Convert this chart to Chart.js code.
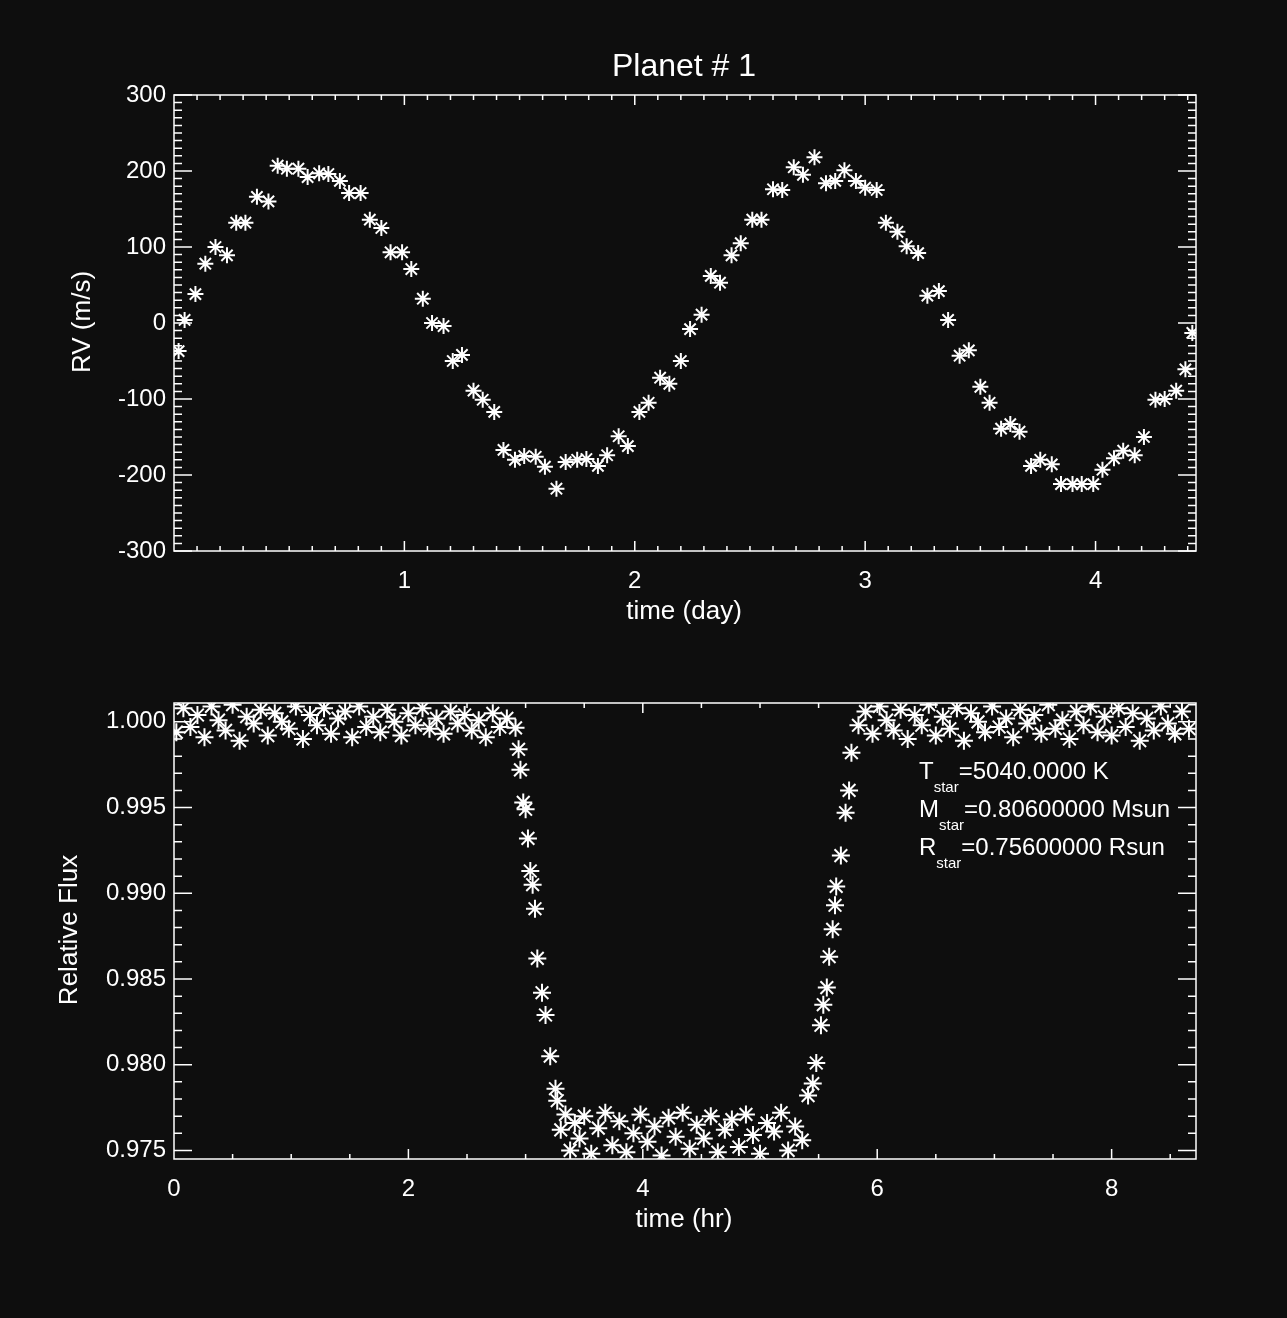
<!DOCTYPE html>
<html>
<head>
<meta charset="utf-8">
<script src="https://cdn.jsdelivr.net/npm/chart.js@4"></script>
<style>
  body { margin: 0; background: #0e0e0e; }
  .box { position: absolute; left: 0; width: 1287px; }
</style>
</head>
<body>
<div class="box" style="top:0;height:640px"><canvas id="rvChart"></canvas></div>
<div class="box" style="top:640px;height:678px"><canvas id="lcChart"></canvas></div>
<script>
const FONT = '"Liberation Sans Narrow", "Liberation Sans", sans-serif'

// radial velocity, time in days
const rvTime = [0.02,0.046,0.093,0.136,0.18,0.23,0.27,0.31,0.36,0.41,0.45,0.49,0.54,0.58,0.63,0.67,0.72,0.76,0.81,0.85,0.90,0.94,0.99,1.03,1.08,1.12,1.17,1.21,1.25,1.30,1.34,1.39,1.43,1.48,1.52,1.57,1.61,1.66,1.70,1.75,1.79,1.84,1.88,1.93,1.97,2.02,2.06,2.11,2.15,2.20,2.24,2.29,2.33,2.37,2.42,2.46,2.51,2.55,2.60,2.64,2.69,2.73,2.78,2.83,2.87,2.91,2.96,3.00,3.05,3.09,3.14,3.18,3.23,3.27,3.32,3.36,3.41,3.45,3.50,3.54,3.59,3.63,3.67,3.72,3.76,3.81,3.85,3.90,3.94,3.99,4.03,4.08,4.12,4.17,4.21,4.26,4.30,4.35,4.39,4.42]
const rvValue = [-37,4,38,78,100,89,132,132,166,160,207,203,203,192,197,196,187,171,171,136,125,93,93,71,32,0,-4,-50,-42,-89,-101,-117,-167,-180,-175,-176,-189,-218,-183,-180,-179,-188,-174,-149,-162,-117,-105,-72,-80,-50,-8,11,62,53,89,105,136,136,176,175,205,195,218,184,187,201,187,178,175,132,120,101,92,36,42,4,-43,-36,-84,-105,-139,-133,-143,-188,-180,-186,-212,-212,-212,-212,-193,-178,-168,-174,-150,-101,-100,-89,-61,-13]
const rvXTicks = [1, 2, 3, 4]
const rvYTicks = [-300, -200, -100, 0, 100, 200, 300]

// transit light curve, time in hours
const lcTime = [
  0.02,0.08,0.14,0.20,0.26,0.32,0.38,0.44,0.50,0.56,0.62,0.68,0.74,0.80,0.86,0.92,0.98,1.04,1.10,1.16,1.22,1.28,1.34,1.40,1.46,1.52,1.58,1.64,1.70,1.76,1.82,1.88,1.94,2.00,2.06,2.12,2.18,2.24,2.30,2.36,2.42,2.48,2.54,2.60,2.66,2.72,2.78,2.84,
  2.914,2.94,2.956,2.98,3.00,3.02,3.04,3.06,3.08,3.10,3.14,3.17,3.21,3.255,3.27,
  3.30,3.34,3.38,3.42,3.46,3.50,3.56,3.62,3.68,3.74,3.80,3.86,3.92,3.98,4.04,4.10,4.16,4.22,4.28,4.34,4.40,4.46,4.52,4.58,4.64,4.70,4.76,4.82,4.88,4.94,5.00,5.06,5.12,5.18,5.24,5.30,5.36,
  5.41,5.45,5.48,5.52,5.54,5.57,5.59,5.62,5.64,5.65,5.69,5.73,5.76,5.78,5.84,
  5.90,5.96,6.02,6.08,6.14,6.20,6.26,6.32,6.38,6.44,6.50,6.56,6.62,6.68,6.74,6.80,6.86,6.92,6.98,7.04,7.10,7.16,7.22,7.28,7.34,7.40,7.46,7.52,7.58,7.64,7.70,7.76,7.82,7.88,7.94,8.00,8.06,8.12,8.18,8.24,8.30,8.36,8.42,8.48,8.54,8.60,8.66,8.71]
const lcFlux = [
  0.9994,1.0008,0.9997,1.0004,0.9991,1.0009,1.0001,0.9995,1.0010,0.9989,1.0003,0.9999,1.0007,0.9992,1.0005,1.0000,0.9996,1.0009,0.9990,1.0004,0.9998,1.0008,0.9993,1.0002,1.0006,0.9991,1.0009,0.9997,1.0003,0.9994,1.0007,1.0000,0.9992,1.0005,0.9998,1.0008,0.9996,1.0002,0.9993,1.0006,0.9999,1.0004,0.9995,1.0001,0.9991,1.0005,0.9997,1.0002,
  0.99965,0.9984,0.9972,0.9953,0.9949,0.9932,0.9913,0.9905,0.9891,0.9862,0.9842,0.9829,0.9805,0.9786,0.9779,
  0.9762,0.9771,0.9750,0.9766,0.9757,0.9770,0.9748,0.9763,0.9772,0.9753,0.9767,0.9749,0.9760,0.9771,0.9755,0.9764,0.9747,0.9769,0.9758,0.9772,0.9751,0.9765,0.9757,0.9770,0.9749,0.9762,0.9768,0.9752,0.9771,0.9759,0.9748,0.9766,0.9761,0.9772,0.9750,0.9764,0.9756,
  0.9782,0.9789,0.9801,0.9823,0.9835,0.9845,0.9863,0.9879,0.9893,0.9904,0.9922,0.9947,0.9960,0.9982,0.9998,
  1.0006,0.9993,1.0009,1.0001,0.9995,1.0007,0.9990,1.0004,0.9998,1.0010,0.9992,1.0003,0.9996,1.0008,0.9989,1.0005,1.0000,0.9994,1.0009,0.9997,1.0002,0.9991,1.0007,0.9999,1.0004,0.9993,1.0010,0.9996,1.0001,0.9990,1.0006,0.9998,1.0009,0.9994,1.0003,0.9992,1.0008,0.9997,1.0005,0.9989,1.0002,0.9995,1.0009,0.9999,0.9993,1.0006,0.9996]
const lcXTicks = [0, 2, 4, 6, 8]
const lcYTicks = [0.975, 0.980, 0.985, 0.990, 0.995, 1.000]

const starLines = [
  ['T', 'star', '=5040.0000 K'],
  ['M', 'star', '=0.80600000 Msun'],
  ['R', 'star', '=0.75600000 Rsun']
]

const toPts = (xs, ys) => xs.map((x, i) => ({x: x, y: ys[i]}))

// IDL style inward ticks on all four sides + free text
const idlAxes = {
  id: 'idlAxes',
  afterDraw(chart, args, o) {
    const ctx = chart.ctx, a = chart.chartArea
    const sx = chart.scales.x, sy = chart.scales.y
    ctx.save()
    ctx.strokeStyle = '#fff'
    ctx.lineWidth = 1.5
    ctx.strokeRect(a.left, a.top, a.right - a.left, a.bottom - a.top)
    ctx.beginPath()
    for (let v = o.xMinor; v <= sx.max + 1e-9; v += o.xMinor) {
      const p = sx.getPixelForValue(v)
      const major = Math.abs(v / o.xMajor - Math.round(v / o.xMajor)) < 1e-6
      const L = major ? 10 : 5
      ctx.moveTo(p, a.bottom); ctx.lineTo(p, a.bottom - L)
      ctx.moveTo(p, a.top); ctx.lineTo(p, a.top + L)
    }
    const y0 = Math.ceil(sy.min / o.yMinor - 1e-6) * o.yMinor
    for (let k = 0; y0 + k * o.yMinor <= sy.max + 1e-9; k++) {
      const v = y0 + k * o.yMinor
      const p = sy.getPixelForValue(v)
      const major = Math.abs(v / o.yMajor - Math.round(v / o.yMajor)) < 1e-6
      const L = major ? 18 : 8
      ctx.moveTo(a.left, p); ctx.lineTo(a.left + L, p)
      ctx.moveTo(a.right, p); ctx.lineTo(a.right - L, p)
    }
    ctx.stroke()
    ctx.fillStyle = '#fff'
    ctx.textAlign = 'center'
    ctx.textBaseline = 'middle'
    ctx.font = '26px ' + FONT
    ctx.fillText(o.xTitle, o.xTitleX, o.xTitleY)
    if (o.title) { ctx.font = '32px ' + FONT; ctx.fillText(o.title, o.titleX, o.titleY) }
    ctx.font = '26px ' + FONT
    ctx.translate(o.yTitleX, o.yTitleY)
    ctx.rotate(-Math.PI / 2)
    ctx.fillText(o.yTitle, 0, 0)
    ctx.restore()
    if (o.notes) {
      ctx.save()
      ctx.fillStyle = '#fff'
      ctx.textBaseline = 'alphabetic'
      o.notes.forEach((n, i) => {
        const y = 779 - 640 + i * 38
        let x = 919
        ctx.font = '24px ' + FONT
        ctx.fillText(n[0], x, y); x += ctx.measureText(n[0]).width
        ctx.font = '15px ' + FONT
        ctx.fillText(n[1], x, y + 13); x += ctx.measureText(n[1]).width
        ctx.font = '24px ' + FONT
        ctx.fillText(n[2], x, y)
      })
      ctx.restore()
    }
  }
}

function makeScales(xMin, xMax, xTicks, yMin, yMax, yTicks, yFmt, xH) {
  return {
    x: {
      type: 'linear', min: xMin, max: xMax,
      grid: {display: false, drawTicks: false}, border: {display: false},
      afterBuildTicks: s => { s.ticks = xTicks.map(v => ({value: v})) },
      ticks: {color: '#fff', font: {size: 24, family: FONT}, padding: 16, maxRotation: 0, autoSkip: false, callback: v => String(v)},
      afterFit: s => { s.height = xH }
    },
    y: {
      type: 'linear', min: yMin, max: yMax,
      grid: {display: false, drawTicks: false}, border: {display: false},
      afterBuildTicks: s => { s.ticks = yTicks.map(v => ({value: v})) },
      ticks: {color: '#fff', font: {size: 24, family: FONT}, padding: 8, autoSkip: false, callback: yFmt},
      afterFit: s => { s.width = 174 }
    }
  }
}

new Chart(document.getElementById('rvChart'), {
  type: 'scatter',
  data: {datasets: [{data: toPts(rvTime, rvValue), pointStyle: 'star', radius: 8, borderColor: '#fff', backgroundColor: '#fff', borderWidth: 2}]},
  options: {
    responsive: true, maintainAspectRatio: false, animation: false,
    layout: {padding: {top: 95, right: 91, left: 0, bottom: 0}},
    plugins: {legend: {display: false}, tooltip: {enabled: false},
      idlAxes: {xMinor: 0.1, xMajor: 1, yMinor: 10, yMajor: 100,
        xTitle: 'time (day)', xTitleX: 684, xTitleY: 612,
        yTitle: 'RV (m/s)', yTitleX: 83, yTitleY: 322,
        title: 'Planet # 1', titleX: 684, titleY: 67}},
    scales: makeScales(0, 4.436, rvXTicks, -300, 300, rvYTicks, v => String(v), 89)
  },
  plugins: [idlAxes]
})

new Chart(document.getElementById('lcChart'), {
  type: 'scatter',
  data: {datasets: [{data: toPts(lcTime, lcFlux), pointStyle: 'star', radius: 9, borderColor: '#fff', backgroundColor: '#fff', borderWidth: 2}]},
  options: {
    responsive: true, maintainAspectRatio: false, animation: false,
    layout: {padding: {top: 63, right: 91, left: 0, bottom: 0}},
    plugins: {legend: {display: false}, tooltip: {enabled: false},
      idlAxes: {xMinor: 0.5, xMajor: 2, yMinor: 0.001, yMajor: 0.005,
        xTitle: 'time (hr)', xTitleX: 684, xTitleY: 1220 - 640,
        yTitle: 'Relative Flux', yTitleX: 70, yTitleY: 930 - 640,
        notes: starLines}},
    scales: makeScales(0, 8.72, lcXTicks, 0.9745, 1.0011, lcYTicks, v => v.toFixed(3), 159)
  },
  plugins: [idlAxes]
})
</script>
</body>
</html>
